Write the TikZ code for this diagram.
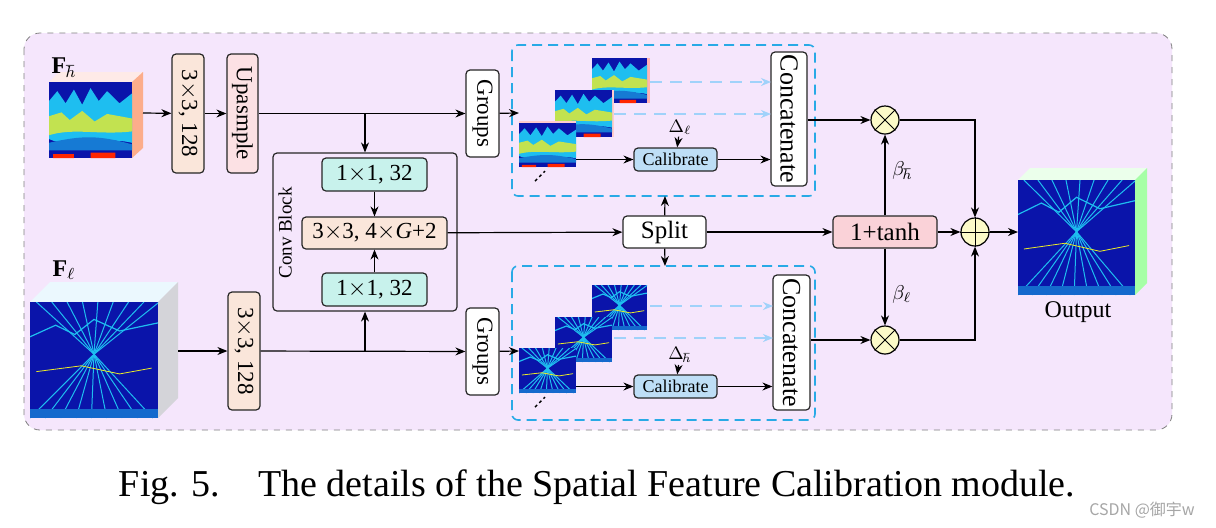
\documentclass[tikz,border=0pt]{standalone}
\usepackage{fontspec}
\setmainfont{Liberation Serif}
\newfontfamily\cjk{Noto Sans CJK SC}
\usetikzlibrary{arrows.meta}
\definecolor{bgp}{RGB}{245,230,252}
\definecolor{peach}{RGB}{250,230,218}
\definecolor{pinkb}{RGB}{252,225,228}
\definecolor{cyanb}{RGB}{200,242,236}
\definecolor{calb}{RGB}{190,222,246}
\definecolor{tanhb}{RGB}{250,210,216}
\definecolor{opb}{RGB}{252,250,200}
\definecolor{dcyan}{RGB}{40,170,230}
\definecolor{lcyan}{RGB}{160,210,250}
\definecolor{hb}{RGB}{10,20,170}
\definecolor{hc}{RGB}{30,190,240}
\definecolor{hy}{RGB}{235,235,40}
\newcommand\heat[5]{% x y w h style(0 warm,1 cool)
\begin{scope}
\clip (#1,#2) rectangle ++(#3,#4);
\fill[hb] (#1,#2) rectangle ++(#3,#4);
\begin{scope}[shift={(#1,#2)},xscale=#3/100,yscale=#4/100]
\ifnum#5=0
\fill[hc] (0,25) -- (10,12) -- (20,28) -- (30,10) -- (40,30) -- (50,8) -- (60,25) -- (70,12) -- (85,28) -- (100,15) -- (100,80) .. controls (60,70) and (30,90) .. (0,75) -- cycle;
\fill[hy!80!hc] (0,45) -- (15,40) -- (25,50) -- (40,38) -- (55,52) -- (70,42) -- (100,48) -- (100,65) .. controls (60,70) and (30,60) .. (0,70) -- cycle;
\fill[hc!60!hb] (0,80) .. controls (40,70) and (60,70) .. (100,82) -- (100,90) -- (0,90) -- cycle;
\fill[red!70!orange] (5,95) rectangle (30,100) (50,93) rectangle (80,100);
\else
\foreach \i in {0,12,...,96}{\draw[hc,line width=0.5pt] (\i,100) -- (50,45) -- (\i+5,0);}
\draw[hc,line width=0.6pt] (0,30) -- (20,20) -- (35,28) -- (50,15) -- (70,25) -- (100,18);
\draw[hy,line width=0.4pt] (5,60) -- (40,55) -- (70,62) -- (95,57);
\fill[hc!50!hb] (0,100) rectangle (100,92);
\fi
\end{scope}
\end{scope}}
\begin{document}
\begin{tikzpicture}[x=0.5pt,y=-0.5pt,
 box/.style={draw=black!85,line width=0.6pt,rounded corners=2pt,inner sep=0pt,font=\fontsize{11.5}{13}\selectfont},
 arr/.style={-{Stealth[length=5pt,width=4pt]},line width=0.6pt},
 darr/.style={-{Stealth[length=5pt,width=4pt]},line width=0.8pt,draw=lcyan,dash pattern=on 6pt off 4pt},
 op/.style={circle,draw=black,fill=opb,minimum size=14pt,inner sep=0pt,line width=0.6pt}]
\useasboundingbox (0,0) rectangle (1216,527);
\fill[white] (0,0) rectangle (1216,527);
\draw[gray,dashed,fill=bgp,rounded corners=8pt] (24,33) rectangle (1172,430);
% F_h cube
\fill[peach!80!red!30] (49,82) -- (59,72) -- (143,72) -- (132,82) -- cycle;
\fill[red!20!peach!80!orange] (132,82) -- (143,72) -- (143,148) -- (132,158) -- cycle;
\heat{49}{82}{83}{76}{0}
\node[font=\fontsize{12}{13}\selectfont] (fh) at (64,68) {$\mathbf{F}_{\hbar}$};
% F_l cube
\fill[cyan!8] (30,302) -- (50,282) -- (178,282) -- (158,302) -- cycle;
\fill[cyan!30!blue!10!gray!35] (158,302) -- (178,282) -- (178,398) -- (158,418) -- cycle;
\heat{30}{302}{128}{116}{1}
\node[font=\fontsize{12}{13}\selectfont] (fl) at (64,270) {$\mathbf{F}_{\ell}$};
% output cube
\fill[green!8] (1018,180) -- (1030,168) -- (1147,168) -- (1135,180) -- cycle;
\fill[green!35!white] (1135,180) -- (1147,168) -- (1147,283) -- (1135,295) -- cycle;
\heat{1018}{180}{117}{115}{1}
\node (outl) at (1078,312) {\fontsize{12}{13}\selectfont Output};
\coordinate (fhr) at (143,113);
\coordinate (flr) at (178,351);
\coordinate (outin) at (1018,232);
% left boxes
\node[box,fill=peach,rotate=-90,minimum width=59.5pt,minimum height=16pt] (c1) at (188,113.5) {3$\times$3, 128};
\node[box,fill=pinkb,rotate=-90,minimum width=59.5pt,minimum height=15.5pt] (up) at (242.5,113.5) {Upasmple};
\node[box,fill=peach,rotate=-90,minimum width=59pt,minimum height=16pt] (c2) at (244,351) {3$\times$3, 128};
\node[box,fill=white,rotate=-90,minimum width=43.5pt,minimum height=16.5pt] (g1) at (482.5,113.5) {Groups};
\node[box,fill=white,rotate=-90,minimum width=43.5pt,minimum height=16.5pt] (g2) at (482.5,351.5) {Groups};
% conv block
\node[box,minimum width=92pt,minimum height=79pt] (cb) at (365,232) {};
\node[rotate=90,font=\fontsize{9.5}{11}\selectfont] at (285,233) {Conv Block};
\node[box,fill=cyanb,minimum width=52.5pt,minimum height=16.5pt] (a1) at (374.5,174.5) {1$\times$1, 32};
\node[box,fill=peach,minimum width=72.5pt,minimum height=16pt] (a2) at (374.5,233) {3$\times$3, 4$\times$\textit{G}+2};
\node[box,fill=cyanb,minimum width=52.5pt,minimum height=16.5pt] (a3) at (374.5,289.5) {1$\times$1, 32};
\draw[arr] (a1) -- (a2); \draw[arr] (a3) -- (a2);
\draw[arr] (fhr) -- (c1); \draw[arr] (c1) -- (up); \draw[arr] (up) -- (g1);
\draw[arr] (flr) -- (c2); \draw[arr] (c2) -- (g2);
\draw[arr] (365,113) -- (cb.north -| 365,0);
\draw[arr] (365,351) -- (cb.south -| 365,0);
% split & tanh
\node[box,fill=white,minimum width=41.5pt,minimum height=16pt,font=\fontsize{12.5}{14}\selectfont] (sp) at (664.5,232) {Split};
\node[box,fill=tanhb,minimum width=52pt,minimum height=16pt,font=\fontsize{12.5}{14}\selectfont] (th) at (885,232) {1+tanh};
\draw[arr] (a2) -- (sp); \draw[arr] (sp) -- (th);
% dashed group boxes
\draw[dcyan,line width=0.8pt,dash pattern=on 5pt off 3pt,rounded corners=3pt] (512,45) rectangle (815,196);
\draw[dcyan,line width=0.8pt,dash pattern=on 5pt off 3pt,rounded corners=3pt] (512,266) rectangle (815,420);
\draw[arr] (sp) -- (665,196); \draw[arr] (sp) -- (665,266);
% top group
\fill[red!30] (647,58) rectangle (650,103);
\heat{592}{58}{55}{45}{0}
\fill[red!20] (612,90) rectangle (614,137);
\heat{555}{90}{57}{47}{0}
\fill[red!20] (519,121) rectangle (576,123);
\heat{519}{123}{57}{44}{0}
\node[box,fill=white,rotate=-90,minimum width=67pt,minimum height=18pt,font=\fontsize{13}{14}\selectfont] (cc1) at (789,119) {Concatenate};
\node[box,fill=calb,minimum width=41.5pt,minimum height=11.5pt,font=\fontsize{9}{10}\selectfont] (cal1) at (675.5,159.5) {Calibrate};
\node[font=\fontsize{9}{10}\selectfont,inner sep=1pt] (d1) at (680,127) {$\Delta_{\ell}$};
\coordinate (g1in) at (519,113);
\draw[arr] (g1) -- (g1in);
\draw[arr] (d1) -- (cal1);
\draw[arr] (576,159.5) -- (cal1); \draw[arr] (cal1) -- (cal1 -| cc1.south);
\draw[darr] (650,82) -- (771,82); \draw[darr] (614,114) -- (771,114);
\draw[line width=0.7pt,dash pattern=on 1.5pt off 1.5pt] (535,181) -- (545,171);
% bottom group
\heat{592}{285}{55}{45}{1}
\heat{555}{317}{57}{45}{1}
\heat{519}{348}{57}{45}{1}
\node[box,fill=white,rotate=-90,minimum width=67.5pt,minimum height=18.5pt,font=\fontsize{13}{14}\selectfont] (cc2) at (791.5,342.5) {Concatenate};
\node[box,fill=calb,minimum width=41.5pt,minimum height=11.5pt,font=\fontsize{9}{10}\selectfont] (cal2) at (675.5,386.5) {Calibrate};
\node[font=\fontsize{9}{10}\selectfont,inner sep=1pt] (d2) at (680,355) {$\Delta_{\hbar}$};
\coordinate (g2in) at (519,351);
\draw[arr] (g2) -- (g2in);
\draw[arr] (d2) -- (cal2);
\draw[arr] (576,386.5) -- (cal2); \draw[arr] (cal2) -- (cal2 -| cc2.south);
\draw[darr] (650,306) -- (773,306); \draw[darr] (614,338) -- (773,338);
\draw[line width=0.7pt,dash pattern=on 1.5pt off 1.5pt] (535,407) -- (545,397);
% ops
\node[op] (m1) at (885,120) {}; \draw (m1.north west) -- (m1.south east) (m1.north east) -- (m1.south west);
\node[op] (m2) at (885,340) {}; \draw (m2.north west) -- (m2.south east) (m2.north east) -- (m2.south west);
\node[op] (pl) at (975,232) {}; \draw (pl.north) -- (pl.south) (pl.west) -- (pl.east);
\draw[arr] (cc1.north |- m1) -- (m1);
\draw[arr] (cc2.north |- m2) -- (m2);
\draw[arr] (th) -- node[right,pos=0.55,font=\fontsize{10}{11}\selectfont] {$\beta_{\hbar}$} (m1);
\draw[arr] (th) -- node[right,pos=0.6,font=\fontsize{10}{11}\selectfont] {$\beta_{\ell}$} (m2);
\draw[arr] (m1) -| (pl); \draw[arr] (m2) -| (pl);
\draw[arr] (th) -- (pl); \draw[arr] (pl) -- (outin);
% caption
\node[font=\fontsize{19}{22}\selectfont] (cap) at (597,487) {Fig. 5.\quad The details of the Spatial Feature Calibration module.};
\node[font=\cjk\fontsize{8}{10}\selectfont,text=gray!70] (wm) at (1142,510) {CSDN @御宇w};
\end{tikzpicture}
\end{document}
